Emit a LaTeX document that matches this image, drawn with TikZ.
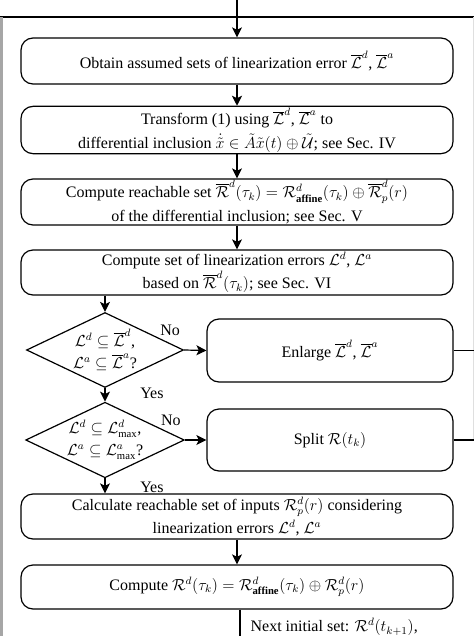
\documentclass[tikz,border=0pt]{standalone}
\usepackage{amsmath,amssymb}
\usepackage{fontspec}
\setmainfont{Liberation Serif}
\usepackage{tikz}
\usetikzlibrary{shapes,shapes.geometric,arrows.meta,positioning}

\begin{document}
\begin{tikzpicture}[x=0.75pt, y=-0.75pt, line width=0.9pt]
		% Define the styles for the flowchart
		\tikzstyle{process}=[rectangle, rounded corners=9pt, draw=black, text centered, align=center, inner sep=1pt, font=\fontsize{12}{17.5}\selectfont]
		\tikzstyle{decision}=[diamond, draw=black, aspect=2.1, inner sep=0pt, text centered, align=center, font=\fontsize{12}{16.5}\selectfont, minimum width=117.75pt, minimum height=56.25pt]
		\tikzstyle{wide}=[process, minimum width=324pt]
		\tikzstyle{half}=[process, minimum width=184.5pt]
		\tikzstyle{lbl}=[inner sep=0pt, font=\fontsize{12}{14}\selectfont]
		\tikzstyle{arr}=[-{Stealth[length=7.5pt, width=7.5pt, inset=1.8pt]}]

		\useasboundingbox (0,0) rectangle (474,636);

		% Define nodes
		\node (obtain) [wide, minimum height=34.5pt] at (237,61) {Obtain assumed sets of linearization error $\overline{\mathcal{L}}^d$, $\overline{\mathcal{L}}^a$};
		\node (transform) [wide, minimum height=31.5pt] at (237,130) {Transform (1) using $\overline{\mathcal{L}}^d$, $\overline{\mathcal{L}}^a$ to\\ differential inclusion $\dot{\tilde{x}} \in \tilde{A}\tilde{x}(t) \oplus \tilde{\mathcal{U}}$; see Sec. IV};
		\node (reach) [wide, minimum height=34.5pt] at (237,202) {Compute reachable set $\overline{\mathcal{R}}^d(\tau_k) = \mathcal{R}^d_{\mathbf{affine}}(\tau_k) \oplus \overline{\mathcal{R}}^d_p(r)$\\ of the differential inclusion; see Sec. V};
		\node (errors) [wide, minimum height=33.75pt] at (237,272.5) {Compute set of linearization errors $\mathcal{L}^d$, $\mathcal{L}^a$\\ based on $\overline{\mathcal{R}}^d(\tau_k)$; see Sec. VI};
		\node (check1) [decision] at (105,350) {$\mathcal{L}^d \subseteq \overline{\mathcal{L}}^d$,\\ $\mathcal{L}^a \subseteq \overline{\mathcal{L}}^a$?};
		\node (enlarge) [half, minimum height=47.25pt] at (330,350.5) {Enlarge $\overline{\mathcal{L}}^d$, $\overline{\mathcal{L}}^a$};
		\node (check2) [decision] at (105,440) {$\mathcal{L}^d \subseteq \mathcal{L}^d_{\max}$,\\ $\mathcal{L}^a \subseteq \mathcal{L}^a_{\max}$?};
		\node (split) [half, minimum height=46.5pt] at (330,440) {Split $\mathcal{R}(t_k)$};
		\node (inputs) [wide, minimum height=33.75pt] at (237,516.5) {Calculate reachable set of inputs $\mathcal{R}^d_p(r)$ considering\\ linearization errors $\mathcal{L}^d$, $\mathcal{L}^a$};
		\node (final) [wide, minimum height=33pt] at (237,587) {Compute $\mathcal{R}^d(\tau_k) = \mathcal{R}^d_{\mathbf{affine}}(\tau_k) \oplus \mathcal{R}^d_p(r)$};
		\node (next) [lbl, anchor=west] at (250,627) {Next initial set: $\mathcal{R}^d(t_{k+1})$,};

		% Loop coordinates
		\coordinate (start) at (237,0);
		\coordinate (topL) at (0,17);
		\coordinate (topR) at (474,17);
		\coordinate (leftT) at (1.5,17);
		\coordinate (leftB) at (1.5,636);
		\coordinate (rightT) at (473.5,17);
		\coordinate (rightB) at (473.5,440);
		\coordinate (bottom) at (240,636);

		% Define edges
		\draw (topL) -- (topR);
		\draw[gray!70, line width=2pt] (leftT) -- (leftB);
		\draw[gray!25, line width=1.5pt] (rightT) -- (rightB);
		\draw[arr] (start) -- (obtain);
		\draw[arr] (obtain) -- (transform);
		\draw[arr] (transform) -- (reach);
		\draw[arr] (reach) -- (errors);
		\draw[arr] (errors.south -| check1.north) -- (check1.north);
		\draw[arr] (check1.east) -- node[lbl, at start, anchor=south, xshift=-10.5pt, yshift=10pt] {No} (enlarge.west);
		\draw[arr] (check1.south) -- node[lbl, anchor=west, xshift=26pt, yshift=1pt] {Yes} (check2.north);
		\draw[arr] (check2.east) -- node[lbl, at start, anchor=south, xshift=-10.5pt, yshift=10pt] {No} (split.west);
		\draw[arr] (check2.south) -- node[lbl, anchor=west, xshift=26pt, yshift=-1pt] {Yes} (inputs.north -| check2.south);
		\draw[arr] (inputs) -- (final);
		\draw (enlarge.east) -- (enlarge.east -| rightB);
		\draw (split.east) -- (rightB);
		\draw (final.south -| bottom) -- (bottom);
	\end{tikzpicture}
\end{document}
